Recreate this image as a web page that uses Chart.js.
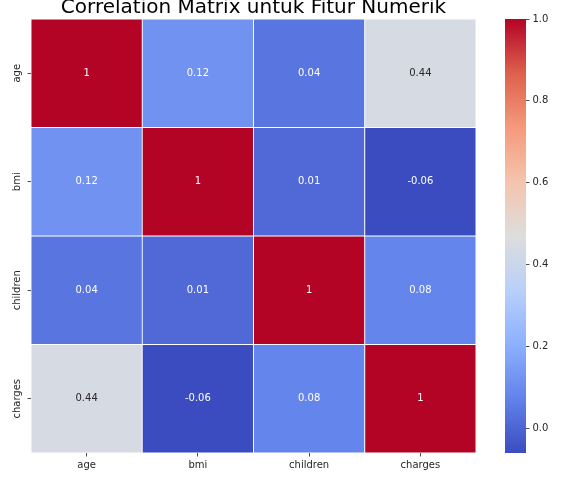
<!DOCTYPE html>
<html>
<head>
<meta charset="utf-8">
<script src="https://cdn.jsdelivr.net/npm/chart.js@4.4.1/dist/chart.umd.min.js"></script>
<style>
  html, body { margin: 0; padding: 0; background: #fff; }
  #wrap { position: relative; width: 583px; height: 486px; }
  #wrap canvas { position: absolute; left: 0; top: 0; }
</style>
</head>
<body>
<div id="wrap">
  <canvas id="heat" width="583" height="486"></canvas>
  <canvas id="cbar" width="583" height="486"></canvas>
</div>
<script>
// data
const features = ['age', 'bmi', 'children', 'charges'];
const corrAge = [1, 0.12, 0.04, 0.44];
const corrBmi = [0.12, 1, 0.01, -0.06];
const corrChildren = [0.04, 0.01, 1, 0.08];
const corrCharges = [0.44, -0.06, 0.08, 1];
const cbarTicks = [0, 0.2, 0.4, 0.6, 0.8, 1.0];
const titleText = 'Correlation Matrix untuk Fitur Numerik';

const rows = [corrAge, corrBmi, corrChildren, corrCharges];
const vmin = Math.min(...rows.flat());
const vmax = Math.max(...rows.flat());

// coolwarm colormap (approx)
const cw = [
  [0.0, 59, 76, 192], [0.125, 98, 130, 234], [0.25, 141, 176, 254],
  [0.375, 184, 208, 249], [0.5, 221, 221, 221], [0.625, 245, 196, 173],
  [0.75, 244, 154, 123], [0.875, 222, 96, 77], [1.0, 180, 4, 38]
];
function coolwarm(t) {
  t = Math.max(0, Math.min(1, t));
  for (let i = 1; i < cw.length; i++) {
    if (t <= cw[i][0]) {
      const a = cw[i - 1], b = cw[i];
      const f = (t - a[0]) / (b[0] - a[0]);
      return [1, 2, 3].map(k => Math.round(a[k] + (b[k] - a[k]) * f));
    }
  }
  return cw[cw.length - 1].slice(1);
}
function cellColor(v) {
  const c = coolwarm((v - vmin) / (vmax - vmin));
  return `rgb(${c[0]},${c[1]},${c[2]})`;
}
function textColor(v) {
  const c = coolwarm((v - vmin) / (vmax - vmin)).map(x => {
    x /= 255;
    return x <= 0.03928 ? x / 12.92 : Math.pow((x + 0.055) / 1.055, 2.4);
  });
  const lum = 0.2126 * c[0] + 0.7152 * c[1] + 0.0722 * c[2];
  return lum > 0.408 ? '#262626' : '#ffffff';
}

const FONT = "'DejaVu Sans', sans-serif";
const PLOT = { left: 31, right: 476, top: 19, bottom: 453 };

// plugin: annotations, y labels, title
const heatExtras = {
  id: 'heatExtras',
  afterDatasetsDraw(chart) {
    const ctx = chart.ctx;
    ctx.save();
    ctx.font = `10px ${FONT}`;
    ctx.textAlign = 'center';
    ctx.textBaseline = 'middle';
    chart.data.datasets.forEach((ds, i) => {
      chart.getDatasetMeta(i).data.forEach((el, j) => {
        const v = rows[i][j];
        ctx.fillStyle = textColor(v);
        ctx.fillText(String(v), el.x, (el.y + el.base) / 2);
      });
    });
    // y labels (rotated)
    const yScale = chart.scales.y;
    ctx.fillStyle = '#262626';
    features.forEach((f, i) => {
      ctx.save();
      ctx.translate(17, yScale.getPixelForValue(i + 0.5));
      ctx.rotate(-Math.PI / 2);
      ctx.fillText(f, 0, 0);
      ctx.restore();
    });
    // title
    const area = chart.chartArea;
    ctx.font = `20px ${FONT}`;
    ctx.textBaseline = 'alphabetic';
    ctx.fillStyle = '#000';
    ctx.fillText(titleText, (area.left + area.right) / 2, area.top - 6);
    ctx.restore();
  }
};

new Chart(document.getElementById('heat'), {
  type: 'bar',
  data: {
    labels: features,
    datasets: rows.map((r, i) => ({
      label: features[i],
      data: r.map(() => 1),
      backgroundColor: r.map(cellColor),
      borderColor: '#ffffff',
      borderWidth: 0.8,
      borderSkipped: false,
      barPercentage: 1,
      categoryPercentage: 1
    }))
  },
  options: {
    responsive: false,
    animation: false,
    events: [],
    layout: { padding: { left: 0, right: 583 - PLOT.right, top: PLOT.top, bottom: 0 } },
    plugins: { legend: { display: false }, tooltip: { enabled: false }, title: { display: false } },
    scales: {
      x: {
        stacked: true,
        grid: { display: true, drawOnChartArea: false, offset: false, tickLength: 3.5, color: '#262626', lineWidth: 0.8 },
        border: { display: false },
        ticks: { color: '#262626', font: { family: FONT, size: 10 }, padding: 3, maxRotation: 0 },
        afterFit(s) { s.height = 486 - PLOT.bottom; }
      },
      y: {
        stacked: true,
        reverse: true,
        min: 0,
        max: 4,
        afterBuildTicks(s) { s.ticks = features.map((f, i) => ({ value: i + 0.5 })); },
        grid: { display: true, drawOnChartArea: false, tickLength: 3.5, color: '#262626', lineWidth: 0.8 },
        border: { display: false },
        ticks: { display: false },
        afterFit(s) { s.width = PLOT.left; }
      }
    }
  },
  plugins: [heatExtras]
});

// colorbar
const CB = { left: 505, right: 526 };
new Chart(document.getElementById('cbar'), {
  type: 'bar',
  data: {
    labels: [''],
    datasets: [{
      data: [[vmin, vmax]],
      backgroundColor(c) {
        const area = c.chart.chartArea;
        if (!area) return '#888';
        const g = c.chart.ctx.createLinearGradient(0, area.bottom, 0, area.top);
        cw.forEach(p => g.addColorStop(p[0], `rgb(${p[1]},${p[2]},${p[3]})`));
        return g;
      },
      borderWidth: 0,
      barPercentage: 1,
      categoryPercentage: 1
    }]
  },
  options: {
    responsive: false,
    animation: false,
    events: [],
    layout: { padding: { left: CB.left, right: 583 - CB.right - 45, top: PLOT.top, bottom: 486 - PLOT.bottom } },
    plugins: { legend: { display: false }, tooltip: { enabled: false } },
    scales: {
      x: { display: false },
      y: {
        position: 'right',
        min: vmin,
        max: vmax,
        afterBuildTicks(s) { s.ticks = cbarTicks.map(v => ({ value: v })); },
        grid: { display: true, drawOnChartArea: false, tickLength: 3.5, color: '#262626', lineWidth: 0.8 },
        border: { display: false },
        ticks: { color: '#262626', font: { family: FONT, size: 10 }, padding: 3, callback: v => v.toFixed(1) },
        afterFit(s) { s.width = 45; }
      }
    }
  }
});
</script>
</body>
</html>
